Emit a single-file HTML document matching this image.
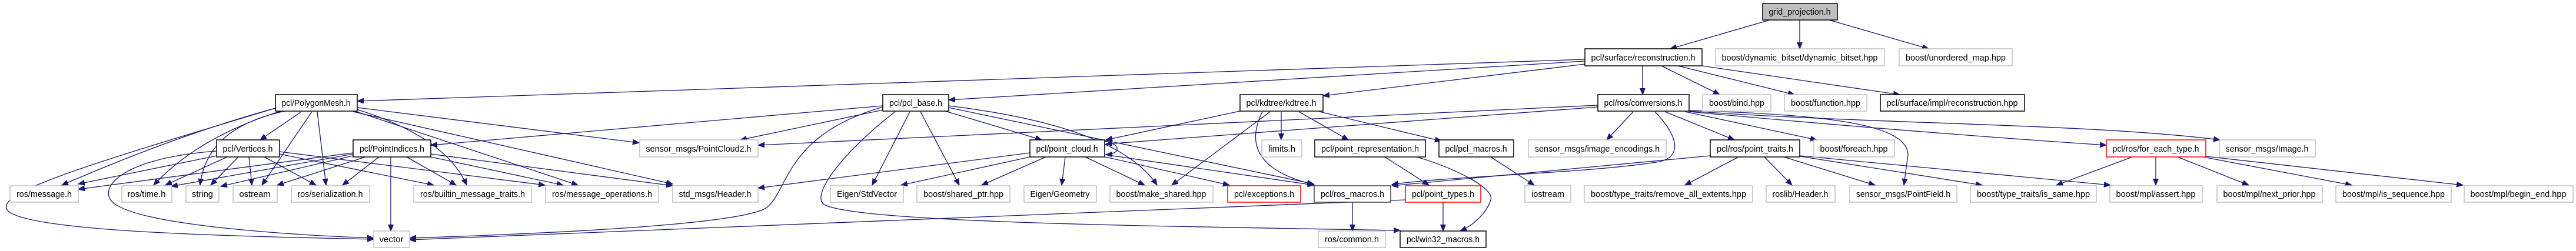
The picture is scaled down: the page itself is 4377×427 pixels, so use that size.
<!DOCTYPE html>
<html><head><meta charset="utf-8"><style>
html,body{margin:0;padding:0;background:#fff;}
svg{display:block;}
text{font-family:"Liberation Sans",sans-serif;font-size:15px;fill:#000;text-anchor:middle;}
.e{fill:none;stroke:#191970;stroke-width:1.3;marker-end:url(#a);}
.b{fill:#fff;stroke:#000;stroke-width:1.5;}
.g{fill:#fff;stroke:#c0c0c0;stroke-width:1.5;}
.r{fill:#fff;stroke:#ff0000;stroke-width:1.5;}
.gp{fill:#bfbfbf;stroke:#000;stroke-width:1.5;}
</style></head><body>
<svg width="4377" height="427" viewBox="0 0 4377 427" xmlns="http://www.w3.org/2000/svg">
<defs><marker id="a" markerUnits="userSpaceOnUse" markerWidth="12" markerHeight="10" refX="11" refY="4.5" orient="auto"><path d="M0,0 L11,4.5 L0,9 z" fill="#191970" stroke="#191970"/></marker></defs>
<g>
<!-- edges -->
<path class="e" d="M3007 34 L2838 83"/>
<path class="e" d="M3058 34 L3058 83"/>
<path class="e" d="M3108 34 L3277 83"/>
<path class="e" d="M2693 101 L607 172"/>
<path class="e" d="M2693 104 L1612 170"/>
<path class="e" d="M2693 109 L2248 163"/>
<path class="e" d="M2791 112 L2791 161"/>
<path class="e" d="M2823 112 L2922 161"/>
<path class="e" d="M2851 112 L3049 161"/>
<path class="e" d="M2892 112 L3228 161"/>
<path class="e" d="M468 184 Q300 230 105 315"/>
<path class="e" d="M477 189 Q337 233 261 315"/>
<path class="e" d="M484 189 Q351 217 340 315"/>
<path class="e" d="M530 190 L445 315"/>
<path class="e" d="M539 190 L554 315"/>
<path class="e" d="M512 190 L442 238"/>
<path class="e" d="M603 185 Q758 233 793 315"/>
<path class="e" d="M600 188 L982 315"/>
<path class="e" d="M600 190 L1143 313"/>
<path class="e" d="M607 183 L1086 243"/>
<path class="e" d="M468 184 C150 280,-20 330,15 360 C60 395,400 402,635 407"/>
<path class="e" d="M368 265 L133 313"/>
<path class="e" d="M386 267 L281 315"/>
<path class="e" d="M405 267 L358 315"/>
<path class="e" d="M423 267 L428 315"/>
<path class="e" d="M449 267 L537 315"/>
<path class="e" d="M475 262 L737 315"/>
<path class="e" d="M475 258 L926 315"/>
<path class="e" d="M368 257 C190 270,160 330,200 350 C260 385,500 400,635 405"/>
<path class="e" d="M600 260 L133 322"/>
<path class="e" d="M600 262 L291 317"/>
<path class="e" d="M600 265 L375 317"/>
<path class="e" d="M621 267 L471 315"/>
<path class="e" d="M644 267 L582 315"/>
<path class="e" d="M664 267 L664 393"/>
<path class="e" d="M691 267 L775 315"/>
<path class="e" d="M732 267 L957 315"/>
<path class="e" d="M732 262 L1143 316"/>
<path class="e" d="M1500 180 L732 247"/>
<path class="e" d="M1500 187 L1258 238"/>
<path class="e" d="M1606 189 L1770 238"/>
<path class="e" d="M1546 190 L1482 315"/>
<path class="e" d="M1564 190 L1630 315"/>
<path class="e" d="M1612 180 Q1900 215 1966 315"/>
<path class="e" d="M1612 183 L2232 313"/>
<path class="e" d="M1500 182 C1330 230,1340 330,1300 355 C1250 380,1000 395,696 405"/>
<path class="e" d="M1521 190 C1430 260,1370 340,1405 350 C1480 380,2000 385,2379 392"/>
<path class="e" d="M2388 340 L696 408"/>
<path class="e" d="M1750 260 L1288 320"/>
<path class="e" d="M1750 267 L1531 315"/>
<path class="e" d="M1777 267 L1668 315"/>
<path class="e" d="M1810 267 L1804 315"/>
<path class="e" d="M1844 267 L1945 315"/>
<path class="e" d="M1878 267 L2089 315"/>
<path class="e" d="M1877 263 L2233 315"/>
<path class="e" d="M1877 240 C1905 245,1905 262,1879 263"/>
<path class="e" d="M2107 189 L1879 238"/>
<path class="e" d="M2715 179 L1288 247"/>
<path class="e" d="M2715 182 L1879 245"/>
<path class="e" d="M2158 190 L1991 315"/>
<path class="e" d="M2177 190 L2177 238"/>
<path class="e" d="M2145 190 C2120 240,2130 290,2233 314"/>
<path class="e" d="M2207 190 L2291 238"/>
<path class="e" d="M2242 190 L2449 240"/>
<path class="e" d="M2353 267 L2428 315"/>
<path class="e" d="M2407 267 C2470 285,2540 320,2533 340 C2525 365,2500 385,2481 393"/>
<path class="e" d="M2533 267 L2607 315"/>
<path class="e" d="M2452 344 L2452 393"/>
<path class="e" d="M2298 344 L2298 393"/>
<path class="e" d="M2775 190 L2730 238"/>
<path class="e" d="M2812 190 C2850 230,2860 265,2820 275 C2700 295,2450 300,2365 314"/>
<path class="e" d="M2829 190 L2947 238"/>
<path class="e" d="M2863 190 L3087 238"/>
<path class="e" d="M2870 188 C3100 195,3240 210,3242 263 L3235 315"/>
<path class="e" d="M2870 190 Q3250 225 3579 247"/>
<path class="e" d="M2870 189 C3200 212,3550 210,3772 238"/>
<path class="e" d="M2906 265 L2365 316"/>
<path class="e" d="M2954 267 L2863 315"/>
<path class="e" d="M2998 267 L3045 315"/>
<path class="e" d="M3031 267 L3186 315"/>
<path class="e" d="M3059 266 L3368 315"/>
<path class="e" d="M3059 265 L3586 315"/>
<path class="e" d="M3623 267 L3494 315"/>
<path class="e" d="M3663 267 L3663 315"/>
<path class="e" d="M3700 267 L3821 315"/>
<path class="e" d="M3743 267 L3996 315"/>
<path class="e" d="M3748 266 L4185 315"/>
</g>
<g>
<!-- row0 -->
<rect class="gp" x="2995" y="6" width="127" height="28"/><text x="3058" y="25" textLength="105" lengthAdjust="spacingAndGlyphs">grid_projection.h</text>
<!-- row1 -->
<rect class="b" x="2693" y="83" width="199" height="29"/><text x="2792" y="103" textLength="177" lengthAdjust="spacingAndGlyphs">pcl/surface/reconstruction.h</text>
<rect class="g" x="2915" y="83" width="287" height="29"/><text x="3058" y="103" textLength="265" lengthAdjust="spacingAndGlyphs">boost/dynamic_bitset/dynamic_bitset.hpp</text>
<rect class="g" x="3227" y="83" width="192" height="29"/><text x="3323" y="103" textLength="170" lengthAdjust="spacingAndGlyphs">boost/unordered_map.hpp</text>
<!-- row2 -->
<rect class="b" x="468" y="161" width="139" height="28"/><text x="537" y="180" textLength="117" lengthAdjust="spacingAndGlyphs">pcl/PolygonMesh.h</text>
<rect class="b" x="1500" y="161" width="112" height="28"/><text x="1556" y="180" textLength="90" lengthAdjust="spacingAndGlyphs">pcl/pcl_base.h</text>
<rect class="b" x="2107" y="161" width="141" height="28"/><text x="2177" y="180" textLength="119" lengthAdjust="spacingAndGlyphs">pcl/kdtree/kdtree.h</text>
<rect class="b" x="2715" y="161" width="155" height="28"/><text x="2792" y="180" textLength="133" lengthAdjust="spacingAndGlyphs">pcl/ros/conversions.h</text>
<rect class="g" x="2893" y="161" width="116" height="28"/><text x="2951" y="180" textLength="94" lengthAdjust="spacingAndGlyphs">boost/bind.hpp</text>
<rect class="g" x="3032" y="161" width="140" height="28"/><text x="3102" y="180" textLength="118" lengthAdjust="spacingAndGlyphs">boost/function.hpp</text>
<rect class="b" x="3195" y="161" width="245" height="28"/><text x="3317" y="180" textLength="223" lengthAdjust="spacingAndGlyphs">pcl/surface/impl/reconstruction.hpp</text>
<!-- row3 -->
<rect class="b" x="368" y="238" width="107" height="29"/><text x="421" y="258" textLength="85" lengthAdjust="spacingAndGlyphs">pcl/Vertices.h</text>
<rect class="b" x="600" y="238" width="132" height="29"/><text x="666" y="258" textLength="110" lengthAdjust="spacingAndGlyphs">pcl/PointIndices.h</text>
<rect class="g" x="1087" y="238" width="201" height="29"/><text x="1187" y="258" textLength="179" lengthAdjust="spacingAndGlyphs">sensor_msgs/PointCloud2.h</text>
<rect class="b" x="1750" y="238" width="127" height="29"/><text x="1813" y="258" textLength="105" lengthAdjust="spacingAndGlyphs">pcl/point_cloud.h</text>
<rect class="g" x="2144" y="238" width="68" height="29"/><text x="2178" y="258" textLength="46" lengthAdjust="spacingAndGlyphs">limits.h</text>
<rect class="b" x="2234" y="238" width="188" height="29"/><text x="2328" y="258" textLength="166" lengthAdjust="spacingAndGlyphs">pcl/point_representation.h</text>
<rect class="b" x="2445" y="238" width="127" height="29"/><text x="2508" y="258" textLength="105" lengthAdjust="spacingAndGlyphs">pcl/pcl_macros.h</text>
<rect class="g" x="2597" y="238" width="234" height="29"/><text x="2714" y="258" textLength="212" lengthAdjust="spacingAndGlyphs">sensor_msgs/image_encodings.h</text>
<rect class="b" x="2906" y="238" width="152" height="29"/><text x="2982" y="258" textLength="130" lengthAdjust="spacingAndGlyphs">pcl/ros/point_traits.h</text>
<rect class="g" x="3082" y="238" width="137" height="29"/><text x="3150" y="258" textLength="115" lengthAdjust="spacingAndGlyphs">boost/foreach.hpp</text>
<rect class="r" x="3579" y="238" width="169" height="29"/><text x="3663" y="258" textLength="147" lengthAdjust="spacingAndGlyphs">pcl/ros/for_each_type.h</text>
<rect class="g" x="3771" y="238" width="163" height="29"/><text x="3852" y="258" textLength="141" lengthAdjust="spacingAndGlyphs">sensor_msgs/Image.h</text>
<!-- row4 -->
<rect class="g" x="17" y="316" width="116" height="28"/><text x="75" y="335" textLength="94" lengthAdjust="spacingAndGlyphs">ros/message.h</text>
<rect class="g" x="207" y="316" width="85" height="28"/><text x="249" y="335" textLength="65" lengthAdjust="spacingAndGlyphs">ros/time.h</text>
<rect class="g" x="316" y="316" width="56" height="28"/><text x="344" y="335" textLength="36" lengthAdjust="spacingAndGlyphs">string</text>
<rect class="g" x="396" y="316" width="75" height="28"/><text x="433" y="335" textLength="53" lengthAdjust="spacingAndGlyphs">ostream</text>
<rect class="g" x="495" y="316" width="133" height="28"/><text x="561" y="335" textLength="111" lengthAdjust="spacingAndGlyphs">ros/serialization.h</text>
<rect class="g" x="703" y="316" width="200" height="28"/><text x="803" y="335" textLength="178" lengthAdjust="spacingAndGlyphs">ros/builtin_message_traits.h</text>
<rect class="g" x="927" y="316" width="192" height="28"/><text x="1023" y="335" textLength="170" lengthAdjust="spacingAndGlyphs">ros/message_operations.h</text>
<rect class="g" x="1143" y="316" width="145" height="28"/><text x="1215" y="335" textLength="123" lengthAdjust="spacingAndGlyphs">std_msgs/Header.h</text>
<rect class="g" x="1411" y="316" width="124" height="28"/><text x="1473" y="335" textLength="102" lengthAdjust="spacingAndGlyphs">Eigen/StdVector</text>
<rect class="g" x="1558" y="316" width="158" height="28"/><text x="1637" y="335" textLength="136" lengthAdjust="spacingAndGlyphs">boost/shared_ptr.hpp</text>
<rect class="g" x="1740" y="316" width="123" height="28"/><text x="1801" y="335" textLength="101" lengthAdjust="spacingAndGlyphs">Eigen/Geometry</text>
<rect class="g" x="1886" y="316" width="175" height="28"/><text x="1973" y="335" textLength="153" lengthAdjust="spacingAndGlyphs">boost/make_shared.hpp</text>
<rect class="r" x="2086" y="316" width="124" height="28"/><text x="2148" y="335" textLength="102" lengthAdjust="spacingAndGlyphs">pcl/exceptions.h</text>
<rect x="2233" y="316" width="130" height="28" fill="#fff" stroke="#404040" stroke-width="1.5"/><text x="2298" y="335" textLength="108" lengthAdjust="spacingAndGlyphs">pcl/ros_macros.h</text>
<rect class="r" x="2388" y="316" width="128" height="28"/><text x="2452" y="335" textLength="106" lengthAdjust="spacingAndGlyphs">pcl/point_types.h</text>
<rect class="g" x="2591" y="316" width="78" height="28"/><text x="2630" y="335" textLength="56" lengthAdjust="spacingAndGlyphs">iostream</text>
<rect class="g" x="2692" y="316" width="286" height="28"/><text x="2835" y="335" textLength="264" lengthAdjust="spacingAndGlyphs">boost/type_traits/remove_all_extents.hpp</text>
<rect class="g" x="3001" y="316" width="117" height="28"/><text x="3059" y="335" textLength="95" lengthAdjust="spacingAndGlyphs">roslib/Header.h</text>
<rect class="g" x="3143" y="316" width="182" height="28"/><text x="3234" y="335" textLength="160" lengthAdjust="spacingAndGlyphs">sensor_msgs/PointField.h</text>
<rect class="g" x="3348" y="316" width="214" height="28"/><text x="3455" y="335" textLength="192" lengthAdjust="spacingAndGlyphs">boost/type_traits/is_same.hpp</text>
<rect class="g" x="3585" y="316" width="157" height="28"/><text x="3663" y="335" textLength="135" lengthAdjust="spacingAndGlyphs">boost/mpl/assert.hpp</text>
<rect class="g" x="3767" y="316" width="179" height="28"/><text x="3856" y="335" textLength="157" lengthAdjust="spacingAndGlyphs">boost/mpl/next_prior.hpp</text>
<rect class="g" x="3969" y="316" width="196" height="28"/><text x="4067" y="335" textLength="174" lengthAdjust="spacingAndGlyphs">boost/mpl/is_sequence.hpp</text>
<rect class="g" x="4187" y="316" width="185" height="28"/><text x="4279" y="335" textLength="163" lengthAdjust="spacingAndGlyphs">boost/mpl/begin_end.hpp</text>
<!-- row5 -->
<rect class="g" x="635" y="393" width="61" height="28"/><text x="665" y="412" textLength="41" lengthAdjust="spacingAndGlyphs">vector</text>
<rect class="g" x="2240" y="393" width="114" height="28"/><text x="2297" y="412" textLength="92" lengthAdjust="spacingAndGlyphs">ros/common.h</text>
<rect class="b" x="2379" y="393" width="146" height="28"/><text x="2452" y="412" textLength="124" lengthAdjust="spacingAndGlyphs">pcl/win32_macros.h</text>
</g>
</svg>
</body></html>
